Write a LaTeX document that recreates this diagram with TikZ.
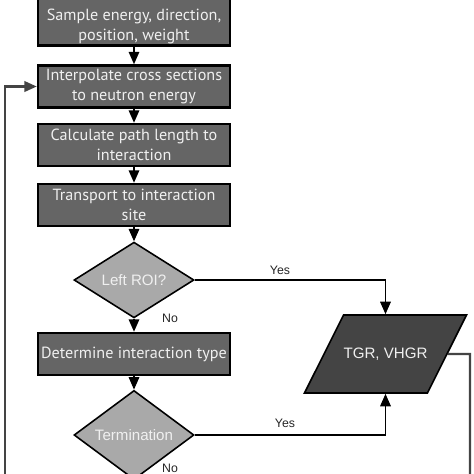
\documentclass[tikz,border=0pt]{standalone}
\usepackage{fontspec}
\setmainfont{Liberation Sans}
\newfontfamily\boxfont{PT Sans}
\usetikzlibrary{arrows.meta, shapes.geometric}
\definecolor{boxgray}{HTML}{656565}
\definecolor{diagray}{HTML}{A9A9A9}
\definecolor{outgray}{HTML}{444444}
\definecolor{lightwhite}{HTML}{F0F0F0}

\tikzset{
  procbox/.style={draw=black, line width=1.4pt, fill=boxgray, text=lightwhite,
    minimum width=3.84cm, minimum height=0.84cm, inner sep=1pt, align=center,
    font=\boxfont\fontsize{9.2}{11.3}\selectfont},
  decision/.style={diamond, draw=black, line width=0.9pt, fill=diagray, text=lightwhite,
    minimum width=2.4cm, minimum height=1.4cm, inner sep=0pt,
    font=\fontsize{8.6}{10}\selectfont},
  iobox/.style={trapezium, trapezium left angle=63.4, trapezium right angle=116.6,
    trapezium stretches body=true, draw=black, line width=0.9pt, fill=outgray, text=lightwhite,
    text height=6.5pt, text depth=1.5pt, inner xsep=0pt, inner ysep=0.639cm,
    minimum width=3.18cm, minimum height=1.56cm,
    font=\fontsize{8.6}{10}\selectfont},
  flow/.style={-{Triangle[length=2.5mm, width=2.1mm]}, line width=1pt},
  answer/.style={font=\fontsize{7}{8}\selectfont, text=black!85},
}

\begin{document}
\begin{tikzpicture}[x=0.02cm, y=-0.02cm]

% Frame of the crop
\useasboundingbox (0,0) rectangle (474,474);
\clip (0,0) rectangle (474,474);
\fill[white] (0,0) rectangle (474,474);

% Process chain
\node[procbox, minimum height=1.2cm] (source) at (134,15)
  {\mbox{}\\[8pt]Sample energy, direction,\\position, weight};
\node[procbox] (interp) at (134,86.5) {Interpolate cross sections\\to neutron energy};
\node[procbox] (pathlen) at (134,145) {Calculate path length to\\interaction};
\node[procbox] (transport) at (134,205) {Transport to interaction\\site};
\node[decision] (roi) at (134,280) {Left ROI?};
\node[procbox] (inttype) at (134,354) {Determine interaction type};
\node[decision] (term) at (134,435) {Termination};

% Tally output
\node[iobox] (tally) at (385.5,354) {TGR, VHGR};

% Loop ends
\coordinate (loopB) at (5,490);
\coordinate (loopT) at (5,86.5);
\coordinate (outR) at (470,354);
\coordinate (outB) at (470,490);

% Arrows down the chain
\draw[flow] (source) -- (interp);
\draw[flow] (interp) -- (pathlen);
\draw[flow] (pathlen) -- (transport);
\draw[flow] (transport) -- (roi);
\draw[flow] (roi) -- (inttype);
\draw[flow] (inttype) -- (term);
\draw[line width=1pt] (term) -- ++(0,40);

% Branches to the tally
\draw[flow] (roi.east) -| (tally.north);
\node[answer] (roiyes) at (280,270) {Yes};
\node[answer] (roino) at (170,318) {No};
\draw[flow] (term.east) -| (tally.south);
\node[answer] (termyes) at (285,423) {Yes};
\node[answer] (termno) at (170,468) {No};

% Return paths
\draw[outgray, line width=1.3pt] (tally.east) -- (outR) -- (outB);
\draw[flow, draw=outgray, line width=1.4pt] (loopB) -- (loopT) -- (interp.west);

\end{tikzpicture}
\end{document}
